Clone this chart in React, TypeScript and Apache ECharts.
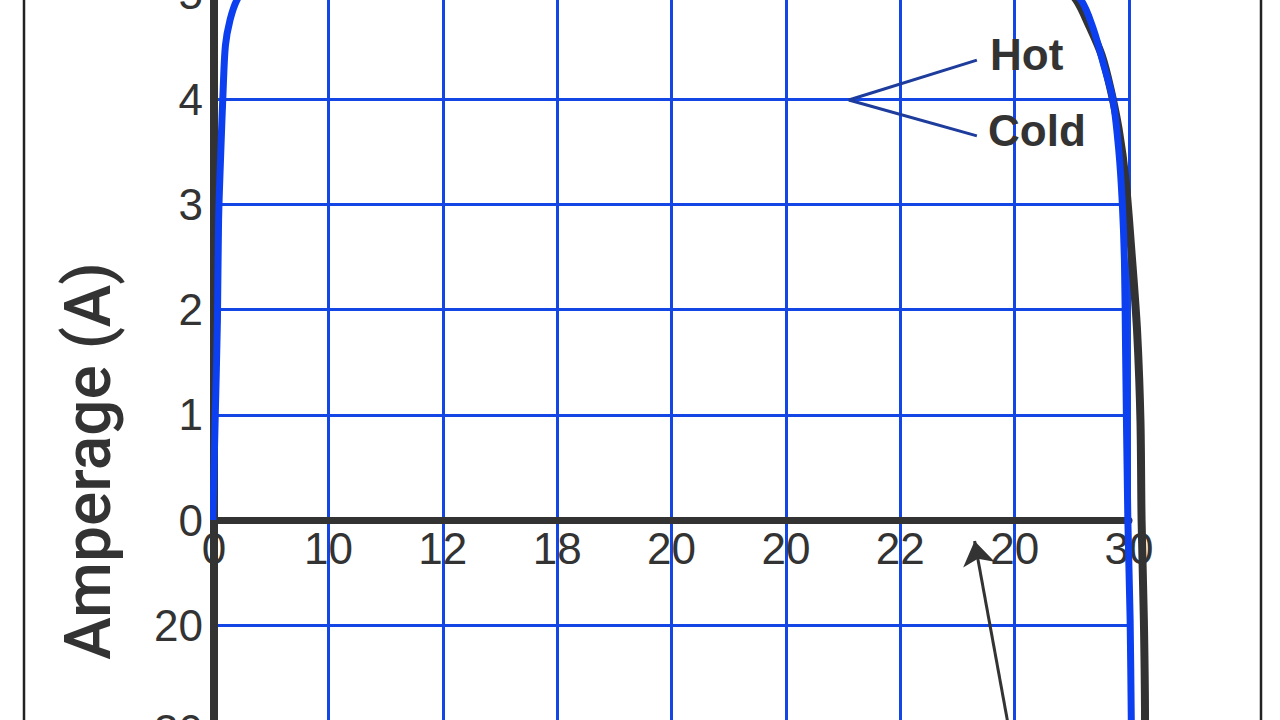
import React, { useEffect, useRef } from "react";
import * as echarts from "echarts";

const xTickValues = [0, 1, 2, 3, 4, 5, 6, 7, 8];
const xTickLabels = ["0", "10", "12", "18", "20", "20", "22", "20", "30"];
const yTickValues = [-3, -2, -1, 0, 1, 2, 3, 4, 5, 6];
const yTickLabels = ["", "30", "20", "0", "1", "2", "3", "4", "5", ""];

const coldCurve: number[][] = [
  [-0.01, 0], [0.01, 0.95], [0.03, 1.9], [0.04, 2.85], [0.06, 3.52], [0.08, 4.09],
  [0.1, 4.51], [0.14, 4.75], [0.2, 4.94], [0.35, 5.2], [0.7, 5.4], [7.0, 5.4],
  [7.3, 5.25], [7.58, 4.94], [7.69, 4.66], [7.78, 4.32], [7.86, 3.99], [7.91, 3.52],
  [7.94, 3.04], [7.96, 2.47], [7.97, 1.62], [7.99, 0], [8.01, -0.95], [8.02, -1.9],
  [8.03, -2.66],
];

const hotCurve: number[][] = [
  [-0.01, -2.7], [-0.01, 4.9], [0.2, 5.3], [0.7, 5.45], [7.0, 5.45], [7.3, 5.25],
  [7.54, 4.94], [7.65, 4.7], [7.76, 4.42], [7.84, 4.09], [7.91, 3.71], [7.97, 3.23],
  [8.02, 2.57], [8.07, 1.81], [8.1, 0.95], [8.11, 0], [8.13, -0.95], [8.14, -1.9],
  [8.14, -2.66],
];

const leaderOrigin = [5.55, 3.99];
const hotLeaderEnd = [6.67, 4.37];
const coldLeaderEnd = [6.67, 3.65];
const arrowTail = [7.0, -2.28];
const arrowTip = [6.65, -0.2];

const seriesNames = ["Hot", "Cold"];
const yAxisTitle = "Amperage (A)";

const DARK = "#333333";
const BLUE = "#0b3ff0";
const GRID_BLUE = "#1446e6";
const NAVY = "#1d3c9c";
const TICK_FONT = "'Liberation Sans', Arial, sans-serif";

const UNIT_X = 114.375;
const GRID_LEFT = 214;
const GRID_TOP = 18.5;
const GRID_BOTTOM = 24.25;
const CHART_H = 990;
const ZERO_OFFSET = -(CHART_H - GRID_BOTTOM - (GRID_TOP + 6 * ((CHART_H - GRID_TOP - GRID_BOTTOM) / 9)));

export default function App() {
  const ref = useRef<HTMLDivElement>(null);
  useEffect(() => {
    const chart = echarts.init(ref.current!, null, { renderer: "svg" });
    chart.setOption({
      animation: false,
      backgroundColor: "#ffffff",
      grid: [
        {
          left: GRID_LEFT,
          right: 1280 - (GRID_LEFT + 8 * UNIT_X),
          top: GRID_TOP,
          bottom: GRID_BOTTOM,
          containLabel: false,
          outerBoundsMode: "none",
        },
        {
          left: GRID_LEFT,
          right: 1280 - (GRID_LEFT + 9 * UNIT_X),
          top: GRID_TOP,
          bottom: GRID_BOTTOM,
          containLabel: false,
          outerBoundsMode: "none",
        },
      ],
      xAxis: [
        {
          type: "value",
          gridIndex: 0,
          min: 0,
          max: 8,
          interval: 1,
          offset: ZERO_OFFSET,
          axisLine: { show: true, onZero: false, lineStyle: { color: DARK, width: 7 } },
          axisTick: { show: false },
          axisLabel: {
            margin: 6,
            fontSize: 44,
            fontFamily: TICK_FONT,
            color: DARK,
            formatter: (v: number) => {
              const i = xTickValues.indexOf(Math.round(v));
              return i >= 0 ? xTickLabels[i] : "";
            },
          },
          splitLine: { show: true, lineStyle: { color: GRID_BLUE, width: 3 } },
        },
        { type: "value", gridIndex: 1, min: 0, max: 9, show: false, splitLine: { show: false } },
      ],
      yAxis: [
        {
          type: "value",
          gridIndex: 0,
          min: -3,
          max: 6,
          interval: 1,
          axisLine: { show: true, onZero: false, lineStyle: { color: DARK, width: 7 } },
          axisTick: { show: false },
          axisLabel: {
            margin: 11,
            fontSize: 44,
            fontFamily: TICK_FONT,
            color: DARK,
            formatter: (v: number) => {
              const i = yTickValues.indexOf(Math.round(v));
              return i >= 0 ? yTickLabels[i] : "";
            },
          },
          splitLine: { show: true, lineStyle: { color: GRID_BLUE, width: 3 } },
        },
        { type: "value", gridIndex: 1, min: -3, max: 6, show: false, splitLine: { show: false } },
      ],
      series: [
        {
          name: seriesNames[0],
          type: "line",
          xAxisIndex: 1,
          yAxisIndex: 1,
          data: hotCurve,
          smooth: 0.3,
          showSymbol: false,
          symbol: "none",
          lineStyle: { color: DARK, width: 8 },
          z: 3,
        },
        {
          name: seriesNames[1],
          type: "line",
          xAxisIndex: 1,
          yAxisIndex: 1,
          data: coldCurve,
          smooth: 0.3,
          showSymbol: false,
          symbol: "none",
          lineStyle: { color: BLUE, width: 7 },
          z: 4,
        },
        {
          type: "lines",
          coordinateSystem: "cartesian2d",
          xAxisIndex: 0,
          yAxisIndex: 0,
          silent: true,
          symbol: ["none", "none"],
          lineStyle: { color: NAVY, width: 3, opacity: 1 },
          data: [
            { coords: [leaderOrigin, hotLeaderEnd] },
            { coords: [leaderOrigin, coldLeaderEnd] },
          ],
          z: 5,
        },
        {
          type: "lines",
          coordinateSystem: "cartesian2d",
          xAxisIndex: 0,
          yAxisIndex: 0,
          silent: true,
          symbol: ["none", "arrow"],
          symbolSize: [16, 24],
          lineStyle: { color: DARK, width: 3, opacity: 1 },
          data: [{ coords: [arrowTail, arrowTip] }],
          z: 5,
        },
      ],
      graphic: [
        {
          type: "rect",
          silent: true,
          shape: { x: 24, y: 0, width: 1237, height: CHART_H },
          style: { fill: "none", stroke: "#222", lineWidth: 2.5 },
          z: 1,
        },
        {
          type: "text",
          silent: true,
          x: 990,
          y: 184,
          style: {
            text: seriesNames[0],
            fontSize: 44,
            fontWeight: "bold",
            fontFamily: "'Liberation Sans', Arial, sans-serif",
            fill: DARK,
            textAlign: "left",
            textVerticalAlign: "middle",
          },
          z: 10,
        },
        {
          type: "text",
          silent: true,
          x: 988,
          y: 260,
          style: {
            text: seriesNames[1],
            fontSize: 44,
            fontWeight: "bold",
            fontFamily: "'Liberation Sans', Arial, sans-serif",
            fill: DARK,
            textAlign: "left",
            textVerticalAlign: "middle",
          },
          z: 10,
        },
        {
          type: "text",
          silent: true,
          x: 88,
          y: 591,
          rotation: Math.PI / 2,
          style: {
            text: yAxisTitle,
            fontSize: 64,
            fontWeight: 500,
            fontFamily: "Roboto, 'Liberation Sans', sans-serif",
            fill: DARK,
            textAlign: "center",
            textVerticalAlign: "middle",
          },
          z: 10,
        },
      ],
    });
    return () => chart.dispose();
  }, []);
  return (
    <div
      ref={ref}
      style={{ position: "fixed", left: 0, top: -130, width: 1280, height: CHART_H, background: "#fff" }}
    />
  );
}
